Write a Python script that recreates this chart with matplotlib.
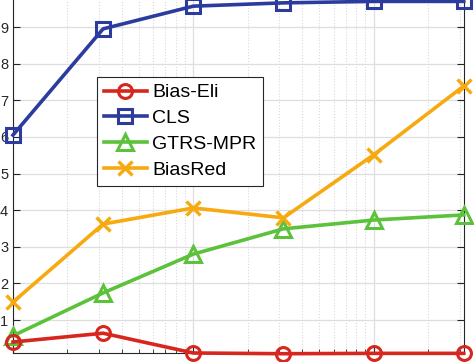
import matplotlib
matplotlib.use("Agg")
import matplotlib.pyplot as plt
from matplotlib.ticker import LogLocator, NullFormatter

# x positions (log scale, two points per decade)
x_vals = [10, 31.6, 100, 316, 1000, 3160]

bias_eli = [0.40, 0.64, 0.10, 0.08, 0.09, 0.09]
cls = [6.05, 8.95, 9.57, 9.66, 9.70, 9.70]
gtrs_mpr = [0.57, 1.74, 2.80, 3.49, 3.73, 3.87]
bias_red = [1.49, 3.62, 4.06, 3.79, 5.51, 7.39]

labels = ["Bias-Eli", "CLS", "GTRS-MPR", "BiasRed"]
y_ticks = [1, 2, 3, 4, 5, 6, 7, 8, 9]

plt.rcParams['font.family'] = ['Liberation Sans', 'DejaVu Sans']

fig = plt.figure(figsize=(4.74, 3.62), dpi=100)
ax = fig.add_axes([0.0274, 0.0249, 0.951, 1.0016])

ax.plot(x_vals, bias_eli, color="#D7261E", lw=2.6, marker="o", ms=10,
        mfc="none", mew=2.2, label=labels[0], clip_on=False, zorder=5)
ax.plot(x_vals, cls, color="#2B3C9E", lw=2.6, marker="s", ms=10,
        mfc="none", mew=2.2, label=labels[1], clip_on=False, zorder=4)
ax.plot(x_vals, gtrs_mpr, color="#5CC23C", lw=2.6, marker="^", ms=11,
        mfc="none", mew=2.2, label=labels[2], clip_on=False, zorder=4)
ax.plot(x_vals, bias_red, color="#F6AA10", lw=2.6, marker="x", ms=10,
        mew=2.4, label=labels[3], clip_on=False, zorder=4)

ax.set_xscale("log")
ax.set_xlim(x_vals[0], x_vals[-1])
ax.set_ylim(0.1, 10)
ax.set_yticks(y_ticks)
ax.xaxis.set_major_locator(LogLocator(base=10))
ax.xaxis.set_minor_locator(LogLocator(base=10, subs=range(2, 10)))
ax.xaxis.set_minor_formatter(NullFormatter())

ax.grid(True, which="major", color="#dedede", lw=0.9)
ax.grid(True, which="minor", axis="x", color="#d8d8d8", lw=0.8, ls=":")
ax.set_axisbelow(True)

ax.tick_params(which="both", direction="in", top=True, right=True,
               labelbottom=False, colors="#262626", labelsize=10.5)
ax.tick_params(which="major", length=5, width=0.8)
ax.tick_params(which="minor", length=3, width=0.6)
for s in ax.spines.values():
    s.set_color("#262626")
    s.set_linewidth(0.8)

leg = ax.legend(loc="upper left", bbox_to_anchor=(97 / 474, 1 - 77 / 362),
                bbox_transform=fig.transFigure, fontsize=14, frameon=True,
                fancybox=False, edgecolor="#262626", framealpha=1,
                handlelength=2.2, handletextpad=0.3, borderpad=0.35,
                labelspacing=0.42, borderaxespad=0)
leg.get_frame().set_linewidth(0.8)

fig.savefig("out.png", dpi=100)
